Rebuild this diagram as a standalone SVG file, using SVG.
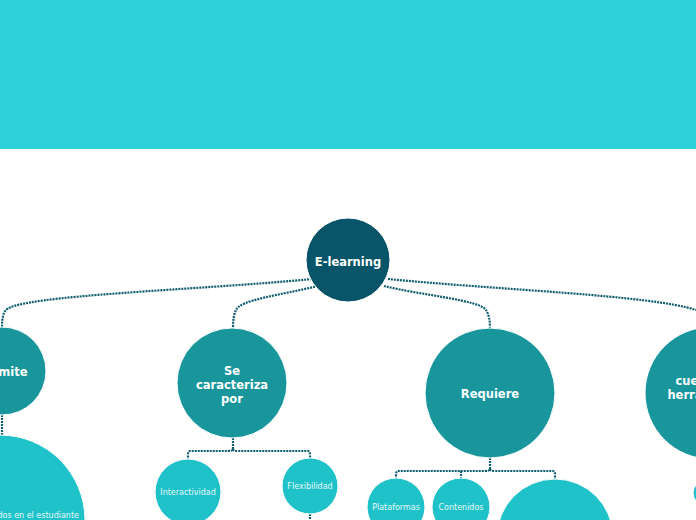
<svg xmlns="http://www.w3.org/2000/svg" width="696" height="520" viewBox="0 0 696 520">
<style>
.c{fill:none;stroke:#0e5c6e;stroke-width:2.2;stroke-dasharray:2 1}
.n1{fill:#18969c;stroke:#fff;stroke-width:1}
.n2{fill:#20c2c9;stroke:#fff;stroke-width:1}
.tb{font-family:"DejaVu Sans",sans-serif;font-weight:bold;font-size:11.5px;fill:#fff;text-anchor:middle}
.ts{font-family:"DejaVu Sans",sans-serif;font-size:8px;fill:#e6f8f8;text-anchor:middle}
</style>
<rect width="696" height="520" fill="#fff"/>
<rect width="696" height="149" fill="#2bd0d8"/>
<g id="connectors">
<path class="c" d="M312,279 C200,290 20,295 6,310 Q2,314 2,327"/>
<path class="c" d="M318,286 C280,295 240,300 236,310 Q233,316 233,328"/>
<path class="c" d="M384,286 C420,295 480,300 486,310 Q490,316 490,328"/>
<path class="c" d="M388,279 C500,290 650,295 696,310"/>
<path class="c" d="M2,415 L2,435"/>
<path class="c" d="M233,438 L233,449 Q233,451 228,451 L190,451 Q188,451 188,455 L188,459 M233,449 Q233,451 238,451 L308,451 Q310,451 310,455 L310,458"/>
<path class="c" d="M490,458 L490,469 Q490,471 485,471 L398,471 Q396,471 396,475 L396,478 M461,471 L461,478 M490,469 Q490,471 495,471 L553,471 Q555,471 555,475 L555,479"/>
<path class="c" d="M310,514 L310,520"/>
</g>
<g id="e-learning"><circle cx="348" cy="260" r="42" fill="#085468" stroke="#fff"/><text class="tb" x="348" y="266">E-learning</text></g>
<g id="permite"><circle class="n1" cx="2" cy="371" r="44"/><text class="tb" x="2" y="376">Permite</text></g>
<g id="caracteriza"><circle class="n1" cx="232" cy="383" r="55"/><text class="tb" x="232" y="375">Se</text><text class="tb" x="232" y="389">caracteriza</text><text class="tb" x="232" y="403">por</text></g>
<g id="requiere"><circle class="n1" cx="490" cy="393" r="65"/><text class="tb" x="490" y="398">Requiere</text></g>
<g id="cuenta"><circle class="n1" cx="711" cy="393" r="66"/><text class="tb" x="711" y="385">cuenta con</text><text class="tb" x="711" y="399">herramientas</text><text class="tb" x="711" y="413">de</text></g>
<g id="centrados"><circle class="n2" cx="0" cy="520" r="85"/><text class="ts" x="79" y="518" style="text-anchor:end">dos en el estudiante</text></g>
<g id="interactividad"><circle class="n2" cx="188" cy="492" r="33"/><text class="ts" x="188" y="495">Interactividad</text></g>
<g id="flexibilidad"><circle class="n2" cx="310" cy="486" r="28"/><text class="ts" x="310" y="489">Flexibilidad</text></g>
<g id="plataformas"><circle class="n2" cx="396" cy="507" r="29"/><text class="ts" x="396" y="510">Plataformas</text></g>
<g id="contenidos"><circle class="n2" cx="461" cy="507" r="29"/><text class="ts" x="461" y="510">Contenidos</text></g>
<g id="big"><circle class="n2" cx="555" cy="537" r="58"/></g>
<g id="right-small"><circle class="n2" cx="705" cy="493" r="12"/></g>
</svg>
